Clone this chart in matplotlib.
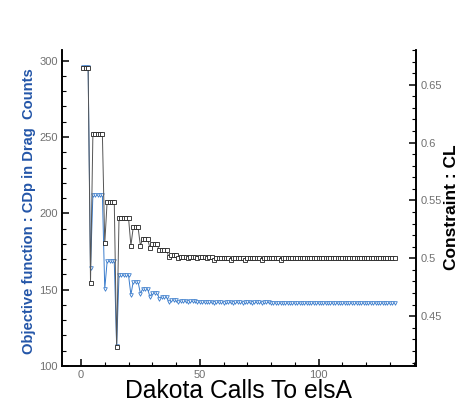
import matplotlib
matplotlib.use("Agg")
import matplotlib.pyplot as plt
from matplotlib.ticker import MultipleLocator

plt.rcParams['font.family'] = ['Liberation Sans', 'DejaVu Sans']

# evaluation index (Dakota call number)
calls = list(range(1, 133))

# objective function, drag counts (left axis)
cdp = [296, 296, 296, 164.0,
       212, 212, 212, 212, 212, 150.5,
       168.5, 168.5, 168.5, 168.5, 113.0,
       159.5, 159.5, 159.5, 159.5, 159.5, 146.7,
       155.3, 155.3, 155.3, 147.4,
       150.7, 150.7, 150.7, 145.4,
       148.0, 148.0, 148.0, 144.1,
       145.4, 145.4, 145.4, 141.6,
       143.4, 143.4, 143.4, 141.6,
       142.6, 142.6, 142.6, 141.9, 142.3, 142.3, 142.3, 141.7,
       142.1, 142.1, 142.1, 141.6, 142.0, 142.0, 141.5, 141.9,
       141.9, 141.9, 141.5, 141.8, 141.8, 141.8, 141.4, 141.8,
       141.7, 141.7, 141.3, 141.7, 141.7, 141.7, 141.3, 141.6,
       141.6, 141.6, 141.3, 141.6, 141.6, 141.6, 141.2, 141.5,
       141.5, 141.5, 141.2, 141.5,
       141.4, 141.4, 141.3, 141.4, 141.4, 141.4, 141.3, 141.4, 141.4, 141.4, 141.3, 141.4,
       141.4, 141.4, 141.3, 141.4, 141.4, 141.4, 141.3, 141.4, 141.4, 141.4, 141.3, 141.4,
       141.4, 141.4, 141.3, 141.4, 141.4, 141.4, 141.3, 141.4, 141.4, 141.4, 141.3, 141.4,
       141.4, 141.4, 141.3, 141.4, 141.4, 141.4, 141.3, 141.4, 141.4, 141.4, 141.4]

# constraint CL (right axis)
cl = [0.664, 0.664, 0.664, 0.479,
      0.607, 0.607, 0.607, 0.607, 0.607, 0.513,
      0.549, 0.549, 0.549, 0.549, 0.423,
      0.535, 0.535, 0.535, 0.535, 0.535, 0.511,
      0.527, 0.527, 0.527, 0.511,
      0.517, 0.517, 0.517, 0.509,
      0.512, 0.512, 0.512, 0.507,
      0.507, 0.507, 0.507, 0.501,
      0.503, 0.503, 0.503, 0.500,
      0.5015, 0.5015, 0.5015, 0.5005, 0.5012, 0.5012, 0.5012, 0.5003,
      0.5010, 0.5010, 0.5010, 0.5002, 0.5008, 0.5008, 0.4985, 0.5006,
      0.5006, 0.5006, 0.5001, 0.5005, 0.5005, 0.4985, 0.5001, 0.5004,
      0.5004, 0.5004, 0.5000, 0.4985, 0.5003, 0.5003, 0.5000, 0.5003,
      0.5003, 0.5003, 0.4985, 0.5002, 0.5002, 0.5002, 0.5000, 0.5002,
      0.5002, 0.5002, 0.4985, 0.5001,
      0.5001, 0.5001, 0.5000, 0.5001, 0.5001, 0.5001, 0.5000, 0.5001, 0.5001, 0.5001, 0.5000, 0.5001,
      0.5001, 0.5001, 0.5000, 0.5001, 0.5001, 0.5001, 0.5000, 0.5001, 0.5001, 0.5001, 0.5000, 0.5001,
      0.5001, 0.5001, 0.5000, 0.5001, 0.5001, 0.5001, 0.5000, 0.5001, 0.5001, 0.5001, 0.5000, 0.5001,
      0.5001, 0.5001, 0.5000, 0.5001, 0.5001, 0.5001, 0.5000, 0.5001, 0.5001, 0.5001, 0.5001]

blue = '#3a7ccc'
tick_grey = '#707070'

fig = plt.figure(figsize=(4.74, 4.12), dpi=100)
ax = fig.add_axes([0.1308, 0.1117, 0.7468, 0.767])
ax2 = ax.twinx()

ax.plot(calls, cdp, color=blue, lw=0.7, marker='v', ms=2.6, mfc='white',
        mec=blue, mew=0.6)
ax2.plot(calls, cl, color='#555555', lw=0.7, marker='s', ms=2.6, mfc='white',
         mec='#222222', mew=0.6)

ax.set_xlim(-8, 141)
ax.set_ylim(100, 307)
ax2.set_ylim(0.407, 0.680)

ax.xaxis.set_major_locator(MultipleLocator(50))
ax.xaxis.set_minor_locator(MultipleLocator(10))
ax.yaxis.set_major_locator(MultipleLocator(50))
ax.yaxis.set_minor_locator(MultipleLocator(10))
ax2.yaxis.set_minor_locator(MultipleLocator(0.01))
ax2.set_yticks([0.45, 0.5, 0.55, 0.6, 0.65])
ax2.set_yticklabels(['0.45', '0.5', '0.55', '0.6', '0.65'])

for a in (ax, ax2):
    a.spines['top'].set_visible(False)
    for s in ('left', 'right', 'bottom'):
        a.spines[s].set_linewidth(1.2)
    a.tick_params(which='major', direction='in', length=5, width=1.1,
                  labelsize=8, labelcolor=tick_grey, pad=3)
    a.tick_params(which='minor', direction='in', length=3, width=0.8)
ax.tick_params(axis='y', which='both', right=False)
ax.tick_params(axis='x', which='both', top=False)

fig.text(29 / 474, 1 - 211 / 412, 'Objective function : CDp in Drag  Counts',
         rotation=90, ha='center', va='center', fontsize=10.6,
         fontweight='bold', color='#2456a8')
fig.text(452 / 474, 1 - 207 / 412, 'Constraint : CL', rotation=90,
         ha='center', va='center', fontsize=12.5, fontweight='bold',
         color='black')
fig.text(239 / 474, 1 - 398 / 412, 'Dakota Calls To elsA', ha='center',
         va='baseline', fontsize=17.8, color='black')

fig.savefig('out.png', dpi=100)
